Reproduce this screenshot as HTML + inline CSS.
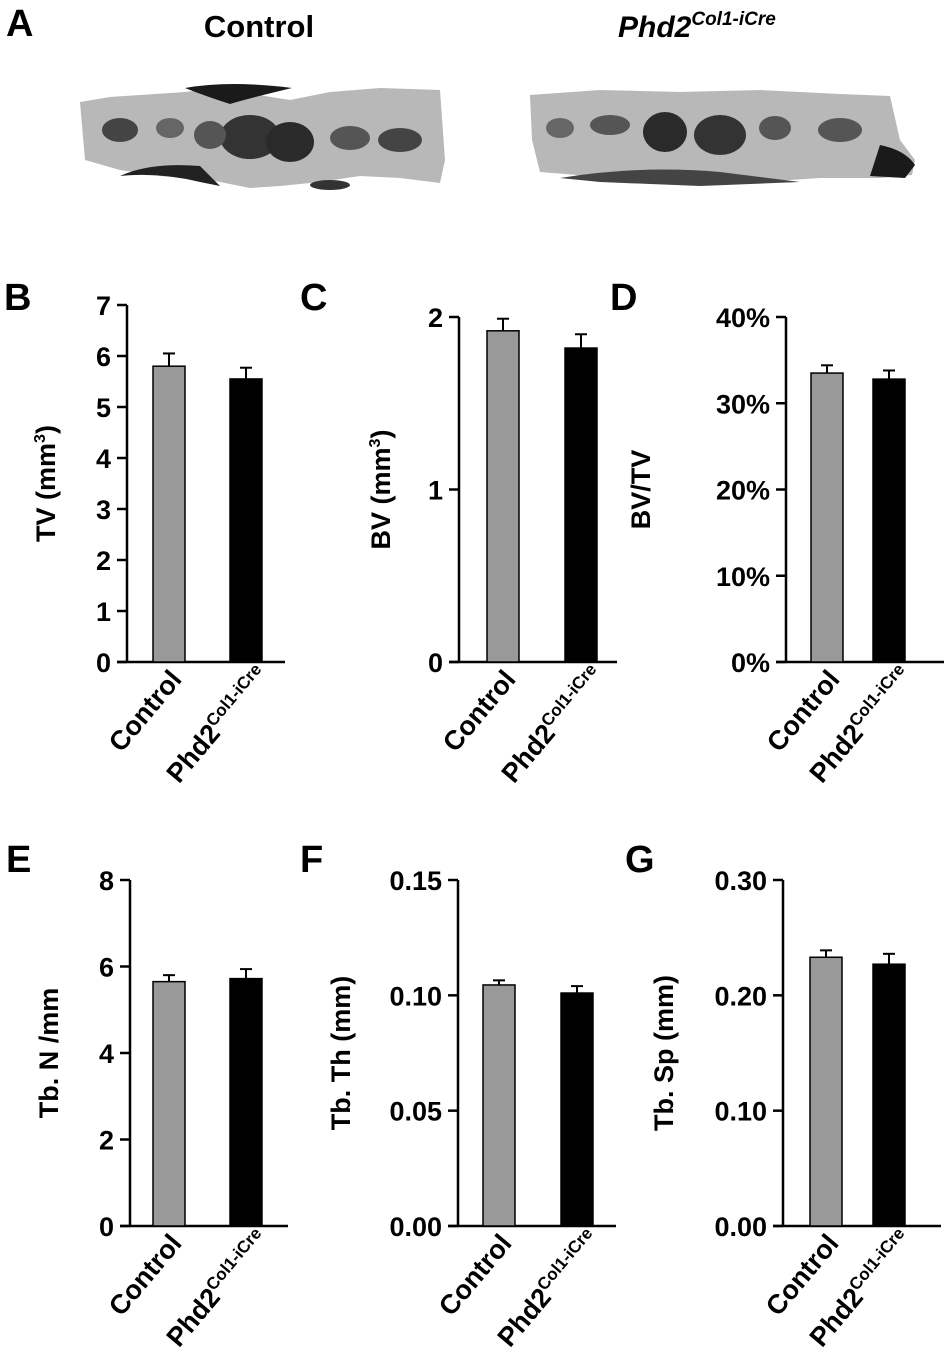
<!DOCTYPE html>
<html><head><meta charset="utf-8"><style>
html,body{margin:0;padding:0;background:#fff;}
svg{display:block;font-family:"Liberation Sans",Arial,sans-serif;font-weight:bold;}
</style></head><body>
<svg id="s" width="946" height="1360" viewBox="0 0 946 1360" xmlns="http://www.w3.org/2000/svg">
<text x="6" y="36" font-size="38">A</text>
<text x="259" y="37" font-size="31" text-anchor="middle">Control</text>
<text x="618" y="37" font-size="30" font-style="italic">Phd2<tspan font-size="19" dy="-12">Col1-iCre</tspan></text>
<g>
<path d="M80,102 L110,97 L185,92 L220,88 L240,92 L290,100 L330,92 L380,88 L440,90 L445,160 L440,183 L400,178 L360,176 L320,182 L280,186 L250,188 L210,180 L160,176 L120,170 L85,160 Z" fill="#b8b8b8"/>
<path d="M185,88 Q230,80 292,88 Q250,98 230,104 Q205,96 185,88 Z" fill="#1a1a1a"/>
<path d="M120,176 Q150,162 200,166 L220,186 L200,182 Q160,172 120,176 Z" fill="#222"/>
<ellipse cx="250" cy="137" rx="30" ry="22" fill="#333"/>
<ellipse cx="290" cy="142" rx="24" ry="20" fill="#2a2a2a"/>
<ellipse cx="210" cy="135" rx="16" ry="14" fill="#555"/>
<ellipse cx="170" cy="128" rx="14" ry="10" fill="#666"/>
<ellipse cx="120" cy="130" rx="18" ry="12" fill="#444"/>
<ellipse cx="350" cy="138" rx="20" ry="12" fill="#555"/>
<ellipse cx="400" cy="140" rx="22" ry="12" fill="#444"/>
<ellipse cx="330" cy="185" rx="20" ry="5" fill="#333"/>
</g>
<g>
<path d="M530,95 L600,90 L680,92 L760,90 L840,94 L890,96 L900,140 L915,160 L912,175 L880,178 L820,178 L760,182 L700,180 L640,178 L590,176 L540,172 L532,140 Z" fill="#b8b8b8"/>
<ellipse cx="665" cy="132" rx="22" ry="20" fill="#2a2a2a"/>
<ellipse cx="720" cy="135" rx="26" ry="20" fill="#333"/>
<ellipse cx="775" cy="128" rx="16" ry="12" fill="#555"/>
<ellipse cx="610" cy="125" rx="20" ry="10" fill="#555"/>
<ellipse cx="560" cy="128" rx="14" ry="10" fill="#666"/>
<ellipse cx="840" cy="130" rx="22" ry="12" fill="#555"/>
<path d="M880,145 Q905,150 915,165 L905,178 L870,176 Z" fill="#1a1a1a"/>
<path d="M560,178 Q640,165 720,172 L800,182 L700,186 L600,182 Z" fill="#444"/>
</g>
<g id="charts"></g>
</svg>
<script>
const g=document.getElementById('charts');let h='';
function chart(o){
 const {ax,top,bot,ticks,max,letter,lx,ly,title,tx,b1,b2,v1,e1,v2,e2}=o;
 h+=`<text x="${lx}" y="${ly}" font-size="38">${letter}</text>`;
 h+=`<line x1="${ax}" y1="${top}" x2="${ax}" y2="${bot}" stroke="#000" stroke-width="2.5"/>`;
 h+=`<line x1="${ax-10}" y1="${bot}" x2="${ax+158}" y2="${bot}" stroke="#000" stroke-width="2.5"/>`;
 ticks.forEach((t,i)=>{const y=bot-(bot-top)*i/(ticks.length-1);
  h+=`<line x1="${ax-10}" y1="${y}" x2="${ax}" y2="${y}" stroke="#000" stroke-width="2.5"/>`;
  h+=`<text x="${ax-16}" y="${y+10}" font-size="27" text-anchor="end">${t}</text>`;});
 const sc=(bot-top)/max;
 [[b1,v1,e1,'#999'],[b2,v2,e2,'#000']].forEach(([bx,v,e,c])=>{
  const y=bot-v*sc,ye=bot-(v+e)*sc,cx=bx+16;
  h+=`<line x1="${cx}" y1="${y}" x2="${cx}" y2="${ye}" stroke="#000" stroke-width="2"/><line x1="${cx-6}" y1="${ye}" x2="${cx+6}" y2="${ye}" stroke="#000" stroke-width="2"/>`;
  h+=`<rect x="${bx}" y="${y}" width="32" height="${bot-y}" fill="${c}" stroke="#000" stroke-width="1.5"/>`;});
 h+=`<text transform="translate(${tx+10},${(top+bot)/2}) rotate(-90)" font-size="27" text-anchor="middle">${title}</text>`;
 h+=`<text transform="translate(${b1+30},${bot+18}) rotate(-50)" font-size="27" text-anchor="end">Control</text>`;
 h+=`<text transform="translate(${b2+40},${bot+14}) rotate(-50)" font-size="27" text-anchor="end">Phd2<tspan font-size="17" dy="-10">Col1-iCre</tspan></text>`;
}
chart({ax:127,top:305,bot:662,ticks:[0,1,2,3,4,5,6,7],max:7,letter:'B',lx:4,ly:310,title:'TV (mm<tspan font-size="16" dy="-10">3</tspan><tspan dy="10">)</tspan>',tx:45,b1:153,b2:230,v1:5.8,e1:0.25,v2:5.55,e2:0.22});
chart({ax:459,top:317,bot:662,ticks:[0,1,2],max:2,letter:'C',lx:300,ly:310,title:'BV (mm<tspan font-size="16" dy="-10">3</tspan><tspan dy="10">)</tspan>',tx:380,b1:487,b2:565,v1:1.92,e1:0.07,v2:1.82,e2:0.08});
chart({ax:786,top:317,bot:662,ticks:['0%','10%','20%','30%','40%'],max:40,letter:'D',lx:610,ly:310,title:'BV/TV',tx:640,b1:811,b2:873,v1:33.5,e1:0.9,v2:32.8,e2:1.0});
chart({ax:130,top:880,bot:1226,ticks:[0,2,4,6,8],max:8,letter:'E',lx:6,ly:872,title:'Tb. N /mm',tx:48,b1:153,b2:230,v1:5.65,e1:0.15,v2:5.72,e2:0.22});
chart({ax:458,top:880,bot:1226,ticks:['0.00','0.05','0.10','0.15'],max:0.15,letter:'F',lx:300,ly:872,title:'Tb. Th (mm)',tx:340,b1:483,b2:561,v1:0.1045,e1:0.002,v2:0.101,e2:0.003});
chart({ax:783,top:880,bot:1226,ticks:['0.00','0.10','0.20','0.30'],max:0.30,letter:'G',lx:625,ly:872,title:'Tb. Sp (mm)',tx:663,b1:810,b2:873,v1:0.233,e1:0.006,v2:0.227,e2:0.009});
g.innerHTML=h;
</script>
</body></html>
